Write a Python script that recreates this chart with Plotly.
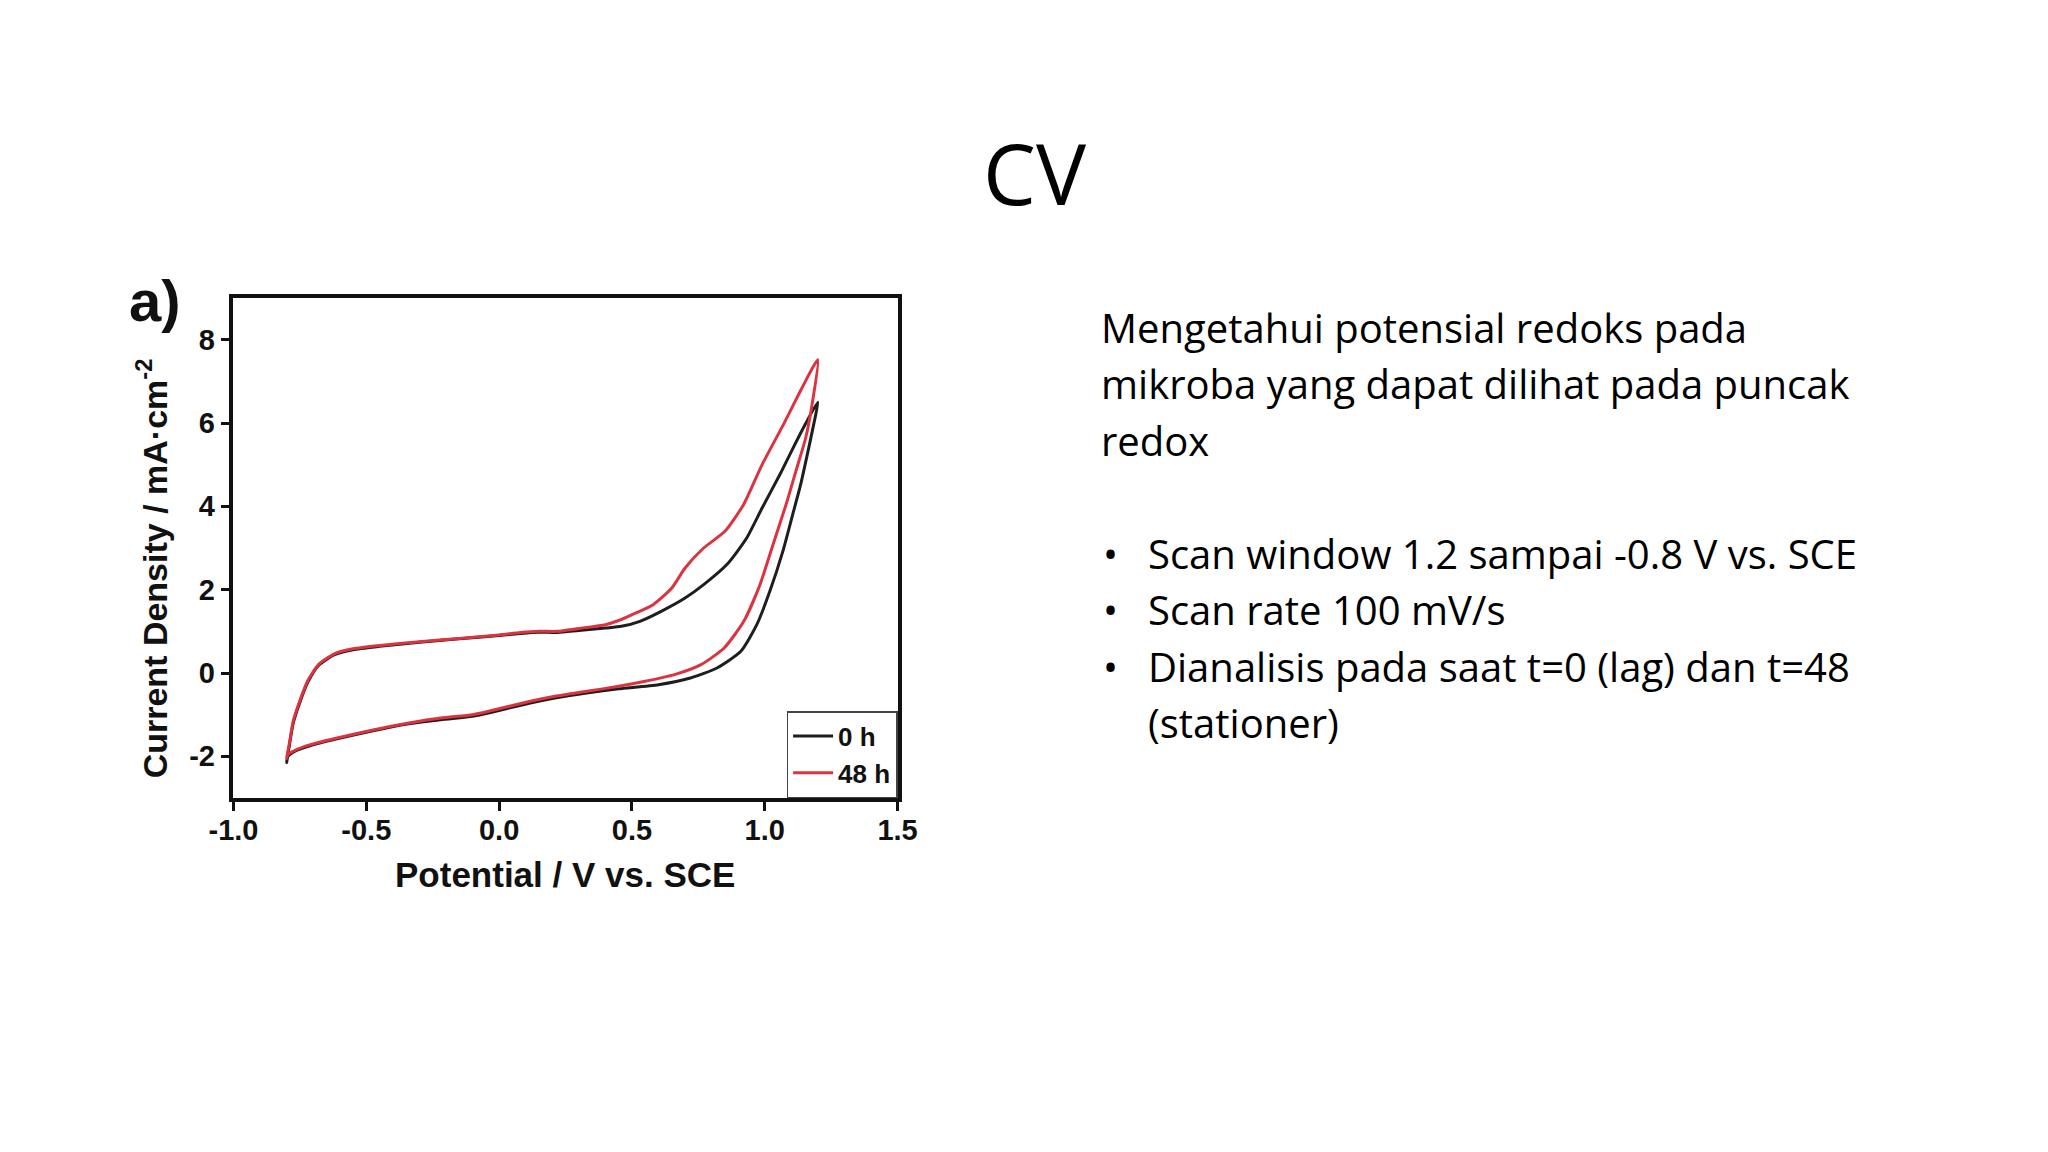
import plotly.graph_objs as go

# cyclic voltammograms: potential (V vs. SCE), current density (mA/cm2)
# each loop starts at -0.8 V, runs the anodic branch up to 1.2 V and comes back
E_0h = [-0.80, -0.79, -0.775, -0.75, -0.72, -0.68, -0.62, -0.55, -0.45, -0.30, -0.15, 0.00,
        0.08, 0.15, 0.22, 0.30, 0.40, 0.46, 0.53, 0.61, 0.70, 0.77, 0.86, 0.93, 0.99, 1.06,
        1.105, 1.155, 1.20,
        1.184, 1.16, 1.135, 1.105, 1.068, 1.019, 0.97, 0.91, 0.82, 0.72, 0.60, 0.45, 0.33,
        0.21, 0.09, -0.04, -0.10, -0.22, -0.34, -0.47, -0.61, -0.71, -0.77, -0.795, -0.80]
J_0h = [-2.15, -1.75, -1.20, -0.70, -0.22, 0.18, 0.44, 0.56, 0.64, 0.74, 0.82, 0.90,
        0.95, 0.98, 0.97, 1.02, 1.08, 1.12, 1.24, 1.48, 1.80, 2.12, 2.62, 3.22, 3.96, 4.80,
        5.38, 6.00, 6.50,
        5.96, 5.24, 4.52, 3.80, 2.92, 1.96, 1.16, 0.52, 0.12, -0.12, -0.28, -0.38, -0.48,
        -0.60, -0.76, -0.96, -1.04, -1.12, -1.22, -1.38, -1.58, -1.74, -1.88, -2.00, -2.15]

E_48h = [-0.80, -0.79, -0.775, -0.75, -0.72, -0.68, -0.62, -0.55, -0.45, -0.30, -0.15, 0.00,
         0.08, 0.15, 0.22, 0.30, 0.40, 0.45, 0.50, 0.58, 0.65, 0.70, 0.77, 0.85, 0.92, 0.99,
         1.07, 1.14, 1.20,
         1.178, 1.154, 1.117, 1.08, 1.031, 0.982, 0.921, 0.847, 0.76, 0.66, 0.55, 0.45, 0.33,
         0.21, 0.09, -0.04, -0.10, -0.22, -0.34, -0.47, -0.61, -0.71, -0.77, -0.795, -0.80]
J_48h = [-2.05, -1.70, -1.15, -0.66, -0.18, 0.20, 0.46, 0.58, 0.66, 0.75, 0.83, 0.91,
         0.97, 1.00, 1.00, 1.07, 1.16, 1.26, 1.40, 1.64, 2.04, 2.52, 3.00, 3.40, 4.04, 5.00,
         5.96, 6.84, 7.52,
         6.44, 5.64, 4.84, 4.04, 3.08, 2.12, 1.24, 0.60, 0.20, -0.04, -0.20, -0.32, -0.44,
         -0.56, -0.72, -0.92, -1.00, -1.08, -1.20, -1.36, -1.56, -1.72, -1.86, -1.96, -2.05]

x_ticks = [-1.0, -0.5, 0.0, 0.5, 1.0, 1.5]
x_ticklabels = ['-1.0', '-0.5', '0.0', '0.5', '1.0', '1.5']
y_ticks = [-2, 0, 2, 4, 6, 8]
y_ticklabels = ['-2', '0', '2', '4', '6', '8']

slide_title = 'CV'
intro_lines = ['Mengetahui potensial redoks pada',
               'mikroba yang dapat dilihat pada puncak',
               'redox']
bullet_lines = [('•', 'Scan window 1.2 sampai -0.8 V vs. SCE'),
                ('•', 'Scan rate 100 mV/s'),
                ('•', 'Dianalisis pada saat t=0 (lag) dan t=48'),
                ('', '(stationer)')]

W, H = 2048, 1152
fig_font = 'Liberation Sans, Arial, sans-serif'
slide_font = 'Open Sans, Noto Sans, sans-serif'


def px(x):
    return x / W


def py(y):
    return 1 - y / H


traces = [
    go.Scatter(name='0 h', x=E_0h, y=J_0h, mode='lines',
               line=dict(color='#1e1e1e', width=3, shape='spline', smoothing=0.6)),
    go.Scatter(name='48 h', x=E_48h, y=J_48h, mode='lines',
               line=dict(color='#dc3340', width=3, shape='spline', smoothing=0.6)),
]

axis_common = dict(
    showline=True, linewidth=3.5, linecolor='#111111', mirror=True,
    ticks='outside', ticklen=9, tickwidth=3, tickcolor='#111111',
    showgrid=False, zeroline=False,
    tickfont=dict(family=fig_font, size=29, color='#111111', weight='bold'),
)

annotations = [
    dict(text=slide_title, x=0.5, y=py(165), xref='paper', yref='paper', showarrow=False,
         xanchor='center', yanchor='middle', font=dict(family=slide_font, size=84, color='black')),
    dict(text='a)', x=px(125), y=py(292), xref='paper', yref='paper', showarrow=False,
         xanchor='center', yanchor='middle',
         font=dict(family=fig_font, size=58, color='#111111', weight='bold')),
    dict(text='Potential / V vs. SCE', x=px(544), y=py(866), xref='paper', yref='paper',
         showarrow=False, xanchor='center', yanchor='middle',
         font=dict(family=fig_font, size=35, color='#111111', weight='bold')),
    dict(text='Current Density / mA·cm<sup>-2</sup>', x=px(121), y=py(560), xref='paper',
         yref='paper', showarrow=False, textangle=-90, xanchor='center', yanchor='middle',
         font=dict(family=fig_font, size=34, color='#111111', weight='bold')),
]

for i, line in enumerate(intro_lines):
    annotations.append(dict(text=line, x=px(1090), y=py(319 + 56.5 * i), xref='paper',
                            yref='paper', showarrow=False, xanchor='left', yanchor='middle',
                            font=dict(family=slide_font, size=40, color='black')))

for i, (mark, line) in enumerate(bullet_lines):
    yy = py(545 + 56.5 * i)
    if mark:
        annotations.append(dict(text=mark, x=px(1092), y=yy, xref='paper', yref='paper',
                                showarrow=False, xanchor='left', yanchor='middle',
                                font=dict(family=slide_font, size=40, color='black')))
    annotations.append(dict(text=line, x=px(1138), y=yy, xref='paper', yref='paper',
                            showarrow=False, xanchor='left', yanchor='middle',
                            font=dict(family=slide_font, size=40, color='black')))

layout = go.Layout(
    width=W, height=H,
    margin=dict(l=0, r=0, t=0, b=0),
    paper_bgcolor='white', plot_bgcolor='white',
    xaxis=dict(axis_common, domain=[px(205), px(884)], range=[-1.0, 1.5],
               tickvals=x_ticks, ticktext=x_ticklabels, ticklabelstandoff=-6),
    yaxis=dict(axis_common, domain=[py(790), py(290)], range=[-3, 9],
               tickvals=y_ticks, ticktext=y_ticklabels),
    showlegend=True,
    legend=dict(x=px(884), y=py(790), xanchor='right', yanchor='bottom',
                bgcolor='white', bordercolor='#444444', borderwidth=1.5,
                tracegroupgap=0, itemwidth=40,
                font=dict(family=fig_font, size=26, color='#111111', weight='bold')),
    annotations=annotations,
)

fig = go.Figure(traces, layout=layout)
fig.write_html('out.html')
